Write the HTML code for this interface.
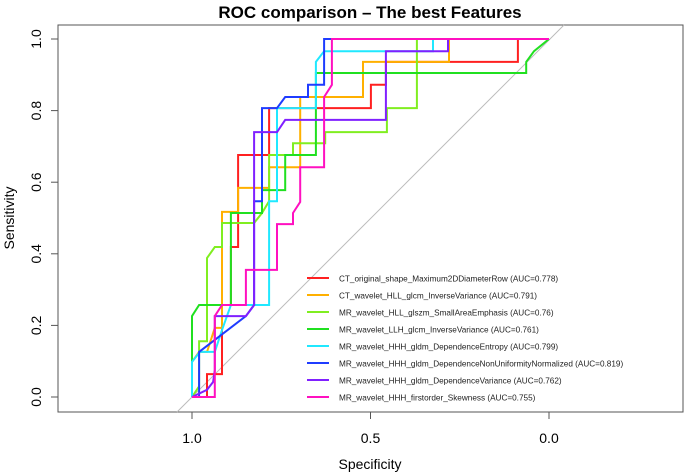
<!DOCTYPE html>
<html><head><meta charset="utf-8"><style>
html,body{margin:0;padding:0;background:#fff;}
svg{display:block;font-family:"Liberation Sans",Arial,sans-serif;}
</style></head><body>
<svg id="chart" width="685" height="474" viewBox="0 0 685 474" xmlns="http://www.w3.org/2000/svg">
<text x="370" y="18" text-anchor="middle" font-size="17" font-weight="bold" fill="#000">ROC comparison – The best Features</text>
<rect x="58" y="25" width="625" height="387" fill="none" stroke="#555" stroke-width="1"/>
<g id="axes"></g>
<g id="series"></g>
<g id="legend"></g>
<text x="370" y="469" text-anchor="middle" font-size="14" fill="#000">Specificity</text>
<text transform="translate(14,218) rotate(-90)" text-anchor="middle" font-size="14" fill="#000">Sensitivity</text>
</svg>
<script>
const xTicks = [1.0, 0.5, 0.0];
const xTickLabels = ["1.0", "0.5", "0.0"];
const yTicks = [0.0, 0.2, 0.4, 0.6, 0.8, 1.0];
const yTickLabels = ["0.0", "0.2", "0.4", "0.6", "0.8", "1.0"];
const seriesNames = [
  "CT_original_shape_Maximum2DDiameterRow (AUC=0.778)",
  "CT_wavelet_HLL_glcm_InverseVariance (AUC=0.791)",
  "MR_wavelet_HLL_glszm_SmallAreaEmphasis (AUC=0.76)",
  "MR_wavelet_LLH_glcm_InverseVariance (AUC=0.761)",
  "MR_wavelet_HHH_gldm_DependenceEntropy (AUC=0.799)",
  "MR_wavelet_HHH_gldm_DependenceNonUniformityNormalized (AUC=0.819)",
  "MR_wavelet_HHH_gldm_DependenceVariance (AUC=0.762)",
  "MR_wavelet_HHH_firstorder_Skewness (AUC=0.755)"
];
const seriesColors = ["#ff2020","#ffb000","#80ee20","#20e020","#20e8ff","#1f3cff","#8020ff","#ff10c0"];

const redSpec = [1,0.958,0.958,0.916,0.916,0.891,0.891,0.871,0.871,0.784,0.784,0.499,0.499,0.457,0.457,0.087,0.087,0];
const redSens = [0,0,0.064,0.064,0.257,0.257,0.419,0.419,0.676,0.676,0.807,0.807,0.872,0.872,0.936,0.936,1,1];
const orangeSpec = [1,1,0.980,0.958,0.936,0.916,0.916,0.894,0.871,0.871,0.784,0.784,0.697,0.697,0.521,0.521,0.280,0.280,0];
const orangeSens = [0,0.098,0.126,0.126,0.193,0.193,0.517,0.517,0.517,0.584,0.584,0.642,0.642,0.838,0.838,0.936,0.936,1,1];
const limeSpec = [1,0.980,0.980,0.958,0.958,0.936,0.916,0.916,0.826,0.804,0.784,0.784,0.717,0.717,0.627,0.627,0.454,0.454,0.370,0.370,0];
const limeSens = [0,0.030,0.156,0.156,0.388,0.419,0.419,0.486,0.486,0.514,0.547,0.676,0.676,0.709,0.709,0.740,0.740,0.807,0.807,1,1];
const greenSpec = [1,1,0.980,0.891,0.891,0.804,0.804,0.739,0.739,0.653,0.653,0.064,0.064,0.042,0];
const greenSens = [0,0.226,0.257,0.257,0.514,0.514,0.578,0.578,0.676,0.676,0.905,0.905,0.936,0.966,1];
const cyanSpec = [1,1,0.978,0.936,0.916,0.891,0.784,0.784,0.762,0.762,0.653,0.653,0.630,0.325,0.325,0];
const cyanSens = [0,0.098,0.126,0.126,0.187,0.257,0.257,0.547,0.547,0.807,0.807,0.936,0.966,0.966,1,1];
const blueSpec = [1,0.980,0.980,0.941,0.849,0.826,0.826,0.804,0.804,0.762,0.739,0.675,0.675,0.630,0.630,0];
const blueSens = [0,0,0.126,0.156,0.226,0.257,0.547,0.547,0.807,0.807,0.838,0.838,0.872,0.872,1,1];
const purpleSpec = [1,0.958,0.941,0.936,0.936,0.849,0.826,0.826,0.762,0.739,0.457,0.457,0.283,0.283,0];
const purpleSens = [0,0.020,0.042,0.075,0.226,0.226,0.257,0.740,0.740,0.774,0.774,0.966,0.966,1,1];
const magentaSpec = [1,0.936,0.936,0.916,0.849,0.849,0.762,0.762,0.717,0.717,0.697,0.697,0.630,0.630,0.608,0.608,0];
const magentaSens = [0,0,0.226,0.257,0.257,0.355,0.355,0.483,0.483,0.514,0.545,0.642,0.642,0.838,0.872,1,1];

const seriesSpec = [redSpec, orangeSpec, limeSpec, greenSpec, cyanSpec, blueSpec, purpleSpec, magentaSpec];
const seriesSens = [redSens, orangeSens, limeSens, greenSens, cyanSens, blueSens, purpleSens, magentaSens];

const NS = "http://www.w3.org/2000/svg";
function xScale(s){ return 549 - 357 * s; }
function yScale(v){ return 397 - 358 * v; }

const axes = document.getElementById('axes');
const diag = document.createElementNS(NS,'line');


diag.setAttribute('x1', xScale(1.042)); diag.setAttribute('y1', yScale(-0.042));
diag.setAttribute('x2', xScale(-0.042)); diag.setAttribute('y2', yScale(1.039));
diag.setAttribute('stroke', '#bbb'); diag.setAttribute('stroke-width', '1');
axes.appendChild(diag);

xTicks.forEach((t,i)=>{
  const x = xScale(t);
  const tk = document.createElementNS(NS,'line');
  
  
  tk.setAttribute('x1',x); tk.setAttribute('x2',x); tk.setAttribute('y1',412); tk.setAttribute('y2',419);
  tk.setAttribute('stroke','#555');
  axes.appendChild(tk);
  const lb = document.createElementNS(NS,'text');
  
  
  lb.setAttribute('x',x); lb.setAttribute('y',443);
  lb.setAttribute('text-anchor','middle'); lb.setAttribute('font-size','14');
  lb.textContent = xTickLabels[i];
  axes.appendChild(lb);
});
yTicks.forEach((t,i)=>{
  const y = yScale(t);
  const tk = document.createElementNS(NS,'line');
  
  
  tk.setAttribute('x1',51); tk.setAttribute('x2',58); tk.setAttribute('y1',y); tk.setAttribute('y2',y);
  tk.setAttribute('stroke','#555');
  axes.appendChild(tk);
  const lb = document.createElementNS(NS,'text');
  
  
  lb.setAttribute('transform','translate(41,'+y+') rotate(-90)');
  lb.setAttribute('text-anchor','middle'); lb.setAttribute('font-size','14');
  lb.textContent = yTickLabels[i];
  axes.appendChild(lb);
});

const sg = document.getElementById('series');
seriesSpec.forEach((sp,i)=>{
  const pts = sp.map((s,j)=> xScale(s).toFixed(1)+','+yScale(seriesSens[i][j]).toFixed(1)).join(' ');
  const pl = document.createElementNS(NS,'polyline');
  
  
  pl.setAttribute('points', pts);
  pl.setAttribute('fill','none');
  pl.setAttribute('stroke', seriesColors[i]);
  pl.setAttribute('stroke-width','2');
  sg.appendChild(pl);
});

const lg = document.getElementById('legend');
seriesNames.forEach((n,i)=>{
  const y = 278 + i*17;
  const ln = document.createElementNS(NS,'line');
  
  
  ln.setAttribute('x1',307); ln.setAttribute('x2',329); ln.setAttribute('y1',y); ln.setAttribute('y2',y);
  ln.setAttribute('stroke', seriesColors[i]); ln.setAttribute('stroke-width','2');
  lg.appendChild(ln);
  const tx = document.createElementNS(NS,'text');
  
  
  tx.setAttribute('x',339); tx.setAttribute('y',y+3.5);
  tx.setAttribute('font-size','8.2'); tx.setAttribute('fill','#222');
  tx.textContent = n;
  lg.appendChild(tx);
});
</script>
</body></html>
